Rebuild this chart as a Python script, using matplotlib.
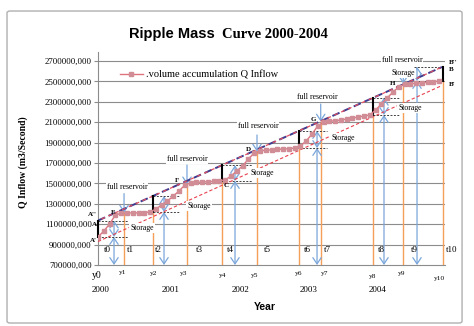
import matplotlib.pyplot as plt
import numpy as np
from matplotlib.patches import FancyBboxPatch

SERIF = "Liberation Serif"
SANS = "Liberation Sans"

# cumulative inflow volume, one value per month (Jan 2000 .. Dec 2004)
month = np.arange(60) / 12
q_cum = [975000, 1033000, 1102000, 1190000, 1208000, 1210000, 1211000, 1212000,
         1214000, 1220000, 1249000, 1288000, 1327000, 1376000, 1425000, 1484000,
         1504000, 1510000, 1514000, 1516000, 1520000, 1524000, 1533000, 1573000,
         1622000, 1671000, 1739000, 1798000, 1818000, 1826000, 1829000, 1834000,
         1837000, 1840000, 1847000, 1867000, 1916000, 1984000, 2063000, 2102000,
         2110000, 2114000, 2122000, 2131000, 2141000, 2151000, 2161000, 2171000,
         2220000, 2278000, 2337000, 2396000, 2445000, 2475000, 2477000, 2482000,
         2486000, 2492000, 2496000, 2504000]

# tangent through the peaks (A''-B'') and through the troughs (A'-B')
upper_x = [0, 4.957]
upper_q = [1136000, 2641000]
lower_x = [0, 4.957]
lower_q = [930000, 2460000]

# y1..y10 reference years and the curve value reached there
y_pos = [0.375, 0.788, 1.282, 1.787, 2.291, 2.892, 3.209, 3.967, 4.399, 4.967]
y_top = [1210000, 1220000, 1484000, 1524000, 1808000, 1847000, 2102000,
         2171000, 2475000, 2504000]

# gap between the curve and the upper tangent at each trough
gap_x = [0, 0.788, 1.787, 2.892, 3.967, 4.967]
gap_lo = [975000, 1220000, 1524000, 1847000, 2171000, 2504000]
gap_hi = [1136000, 1375000, 1678000, 2014000, 2340000, 2644000]

# storage arrows and the dashed levels around them
store_x = [0.2305, 0.951, 1.974, 3.156, 4.121, 4.597]
dash_x0 = [0.0, 0.788, 1.787, 2.892, 3.967, 4.55]
dash_x1 = [0.43, 1.18, 2.22, 3.30, 4.35, 4.967]

# "full reservoir" arrows pointing at the peaks
full_x = [0.375, 1.282, 2.291, 3.209, 4.399]
full_from = [1400000, 1680000, 1975000, 2278000, 2560000]
full_to = [1212000, 1490000, 1812000, 2106000, 2478000]

yticks = list(range(700000, 2700001, 200000))
ytick_labels = [f"{v},000" for v in yticks]

t_names = ["t0", "t1", "t2", "t3", "t4", "t5", "t6", "t7", "t8", "t9", "t10"]
t_x = [0.13, 0.461, 0.865, 1.455, 1.902, 2.435, 3.012, 3.300, 4.078, 4.553, 5.101]

years = ["2000", "2001", "2002", "2003", "2004"]
year_x = [0.04, 1.04, 2.05, 3.04, 4.03]

ORANGE = "#f5a05a"
BLUE = "#7aa6da"
GRID = "#8c8c8c"
PINK = "#e0727f"
PINK_MK = "#d08d96"

fig = plt.figure(figsize=(4.74, 3.26), dpi=100)
ax = fig.add_axes([0.2068, 0.1871, 0.7320, 0.6539])
ax.set_xlim(0, 5)
ax.set_ylim(700000, 2790000)

for v in yticks[1:]:
    ax.axhline(v, color=GRID, lw=0.8, zorder=0)

ax.set_yticks(yticks)
ax.set_yticklabels(ytick_labels, family=SERIF, fontsize=6.3)
ax.set_xticks([])
ax.tick_params(axis="y", length=3, width=0.8, color=GRID, pad=1.5)
for s in ["top", "right"]:
    ax.spines[s].set_visible(False)
for s in ["left", "bottom"]:
    ax.spines[s].set_color(GRID)
    ax.spines[s].set_linewidth(0.8)

# orange reference verticals
for x, top in zip(y_pos, y_top):
    ax.plot([x, x], [700000, top], color=ORANGE, lw=1, zorder=1)

arrow = dict(arrowstyle="<->,head_length=0.45,head_width=0.3", color=BLUE,
             lw=0.9, shrinkA=0, shrinkB=0, mutation_scale=10)
down = dict(arrow, arrowstyle="->,head_length=0.45,head_width=0.3")

# storage arrows and dashed levels
for x, x0, x1, lo, hi in zip(store_x, dash_x0, dash_x1, gap_lo, gap_hi):
    ax.annotate("", xy=(x, lo), xytext=(x, hi), arrowprops=arrow, zorder=2)
    ax.annotate("", xy=(x, 700000), xytext=(x, lo), arrowprops=arrow, zorder=2)
    ax.plot([x0, x1], [hi, hi], color="#404040", lw=0.7, ls=(0, (2, 1.5)), zorder=2)
    ax.plot([x0, x1], [lo, lo], color="#404040", lw=0.7, ls=(0, (2, 1.5)), zorder=2)

for x, a, b in zip(full_x, full_from, full_to):
    ax.annotate("", xy=(x, b), xytext=(x, a), arrowprops=down, zorder=2)

# tangent lines
ax.plot(lower_x, lower_q, color="#e8404f", lw=0.8, ls=(0, (3, 2)), zorder=3)
ax.plot(upper_x, upper_q, color="#3b3b8f", lw=1.4, ls=(0, (4, 2)), zorder=3)
ax.plot(upper_x, upper_q, color="#e05060", lw=0.9, ls=(3, (3, 3)), zorder=3)

for x, lo, hi in zip(gap_x, gap_lo, gap_hi):
    ax.plot([x, x], [lo, hi], color="black", lw=1.5, zorder=4, clip_on=False)

ax.plot(month, q_cum, color=PINK, lw=1, marker="s", ms=3.5, mfc=PINK_MK,
        mec=PINK_MK, zorder=5, label=".volume accumulation Q Inflow")

ax.legend(loc="center left", bbox_to_anchor=(0.063, 0.891), frameon=False,
          prop={"family": SERIF, "size": 7.5}, handlelength=2.2,
          handletextpad=0.3, borderpad=0, borderaxespad=0)

box = dict(facecolor="white", edgecolor="none", pad=0.6)
full_lbl = [(0.418, 1465000), (1.282, 1739000), (2.305, 2063000),
            (3.156, 2347000), (4.380, 2710000)]
for x, y in full_lbl:
    ax.text(x, y, "full reservoir", family=SERIF, fontsize=5.6, ha="center",
            va="center", bbox=box, zorder=6)
store_lbl = [(0.634, 1063000), (1.455, 1278000), (2.363, 1602000),
             (3.530, 1945000), (4.496, 2239000), (4.395, 2582000)]
for x, y in store_lbl:
    ax.text(x, y, "Storage", family=SERIF, fontsize=5.6, ha="center",
            va="center", bbox=box, zorder=6)

points = [("A''", -0.015, 1200000, "right"), ("A", -0.015, 1102000, "right"),
          ("A'", -0.015, 945000, "right"), ("E", 0.216, 1215000, "center"),
          ("F", 1.138, 1533000, "center"), ("C", 1.844, 1475000, "center"),
          ("D", 2.161, 1837000, "center"), ("G", 3.098, 2131000, "center"),
          ("H", 4.251, 2475000, "center"), ("B''", 5.05, 2690000, "left"),
          ("B", 5.05, 2612000, "left"), ("B'", 5.05, 2470000, "left")]
for s, x, y, ha in points:
    ax.text(x, y, s, family=SERIF, fontsize=5, fontweight="bold", ha=ha,
            va="center", zorder=6, clip_on=False)

for s, x in zip(t_names, t_x):
    ax.text(x, 847000, s, family=SERIF, fontsize=6.5, ha="center", va="center",
            clip_on=False)

# y0..y10 under the axis
y_lbl_x = [-0.014, 0.36, 0.807, 1.239, 1.801, 2.262, 2.896, 3.271, 3.963, 4.380, 4.914]
y_lbl_v = [602000, 631000, 621000, 621000, 602000, 602000, 621000, 612000,
           592000, 612000, 563000]
for i, (x, v) in enumerate(zip(y_lbl_x, y_lbl_v)):
    ax.text(x, v, f"y{i}", family=SERIF, fontsize=7 if i == 0 else 5.3,
            ha="center", va="center", clip_on=False)

for s, x in zip(years, year_x):
    ax.text(x, 455000, s, family=SERIF, fontsize=6.5, ha="center",
            va="center", clip_on=False)

fig.text(0.4536, 0.8957, "Ripple Mass", family=SANS, fontweight="bold",
         fontsize=10.5, ha="right", va="center")
fig.text(0.468, 0.8957, "Curve 2000-2004", family=SERIF, fontweight="bold",
         fontsize=10.5, ha="left", va="center")
fig.text(0.0485, 0.503, "Q Inflow (m3/Second)", family=SERIF,
         fontweight="bold", fontsize=7, rotation=90, ha="center", va="center")
fig.text(0.559, 0.0583, "Year", family=SANS, fontweight="bold", fontsize=7.5,
         ha="center", va="center")

fig.patches.append(FancyBboxPatch((0.0148, 0.0092), 0.96, 0.957,
                                  boxstyle="round,pad=0,rounding_size=0.006",
                                  transform=fig.transFigure, fill=False,
                                  edgecolor="#b0b0b0", lw=1))

fig.savefig("out.png", dpi=100)
